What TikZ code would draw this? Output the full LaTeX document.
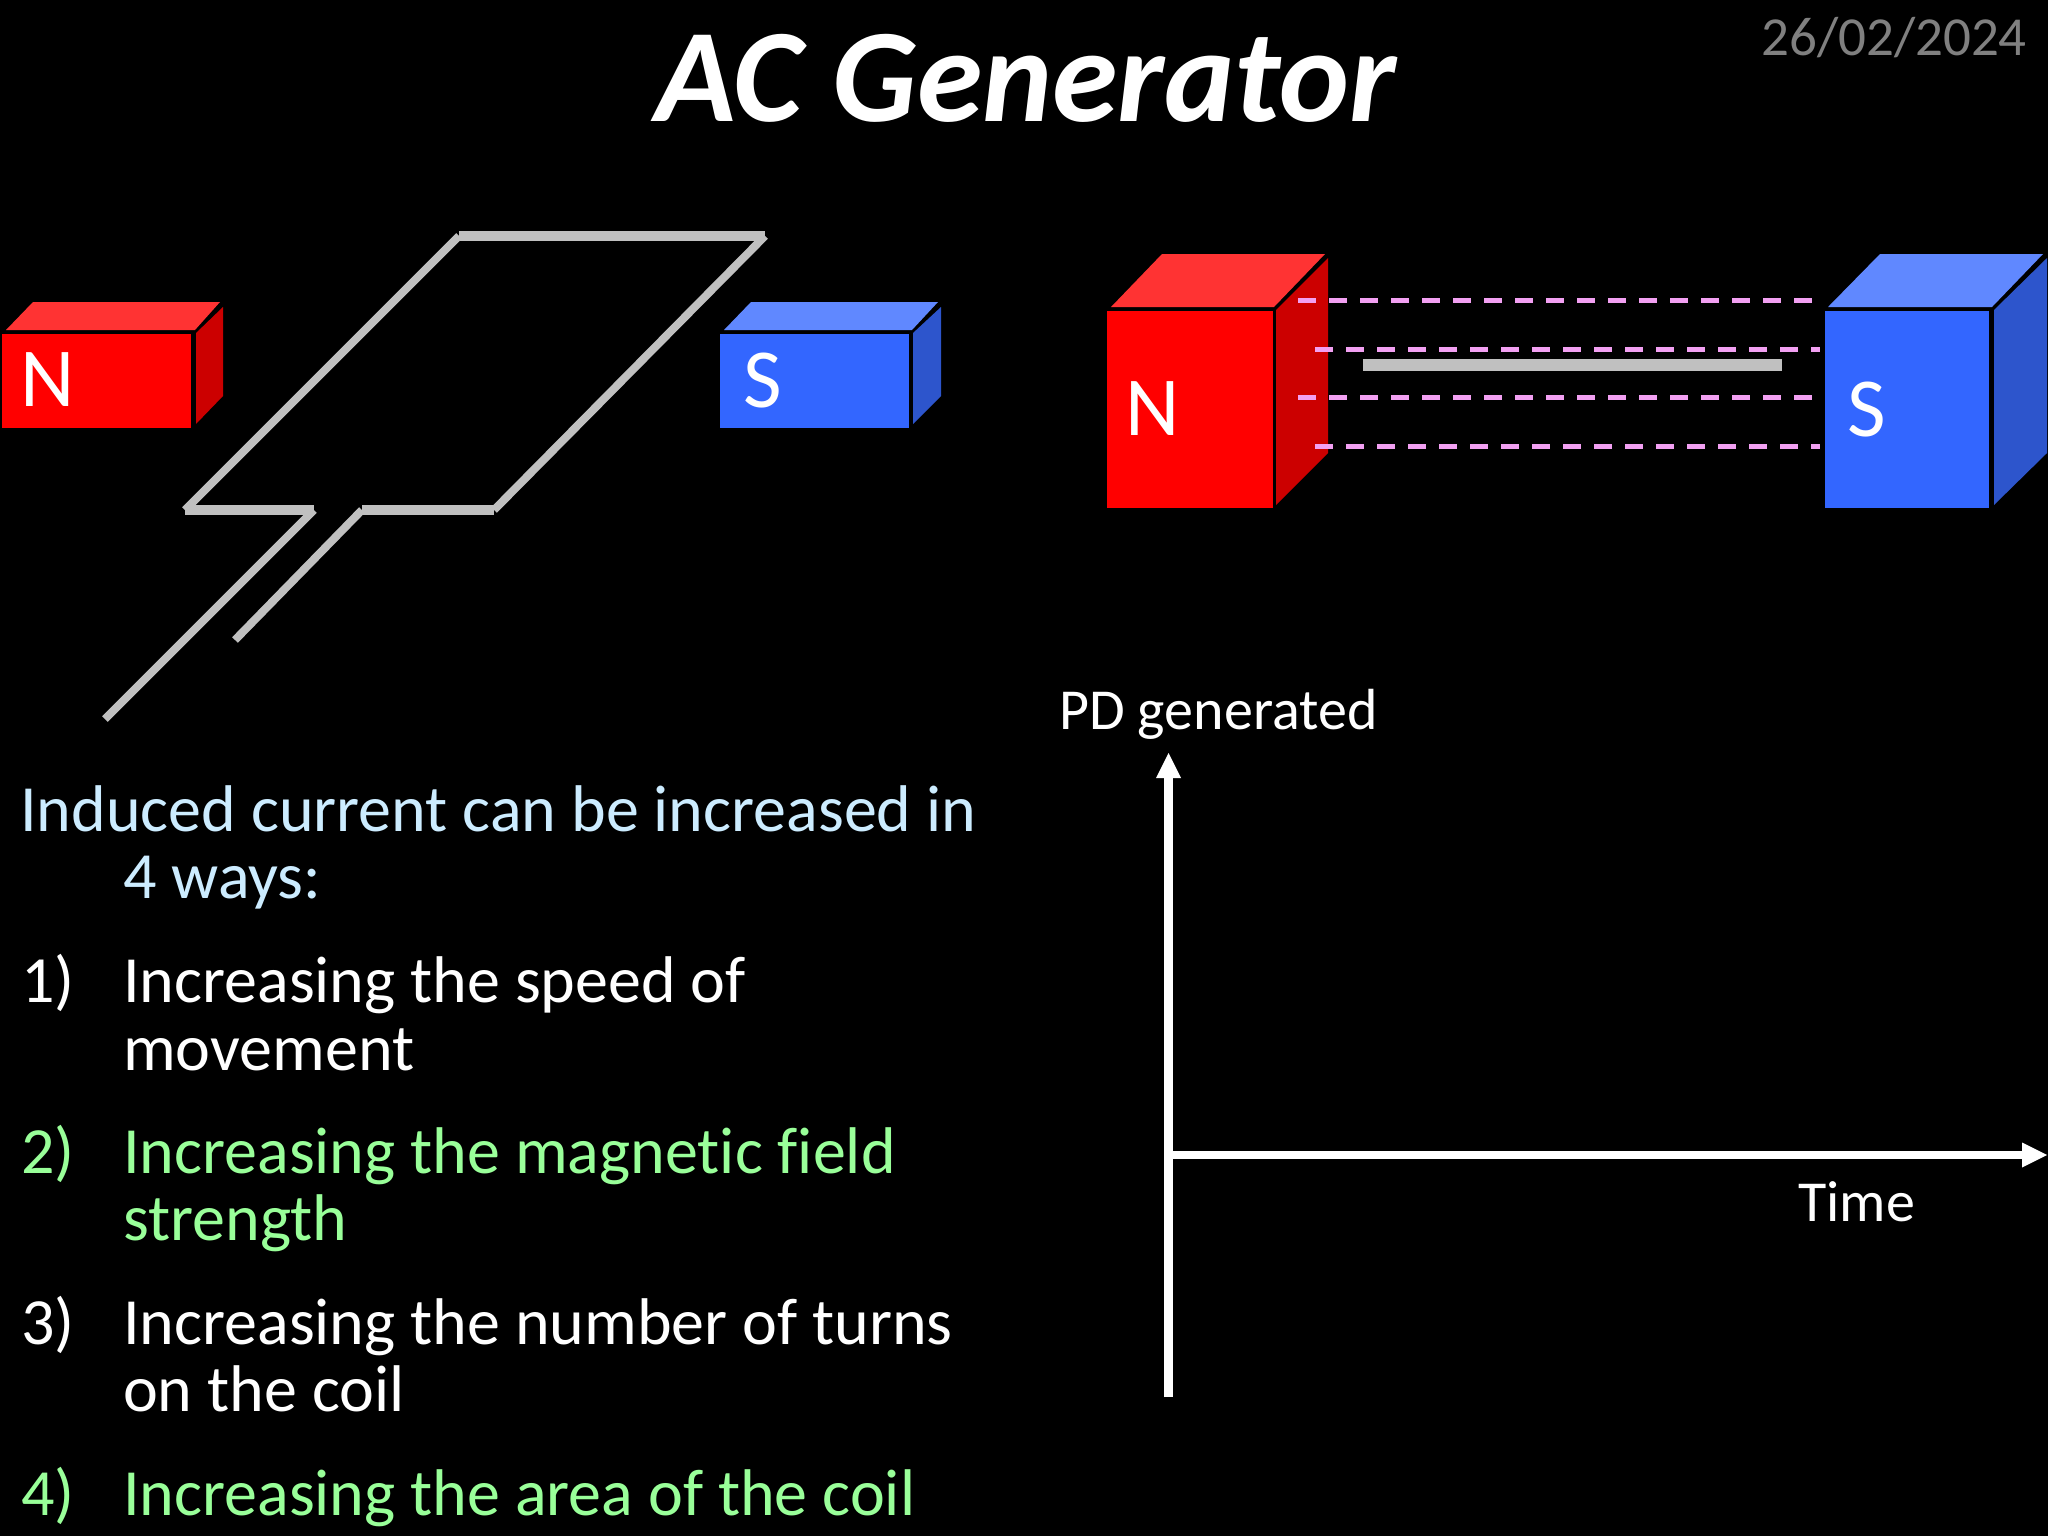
\documentclass[tikz,border=0pt]{standalone}
\usepackage{fontspec}
\setmainfont[Ligatures=NoCommon]{Carlito}
\definecolor{coilgrey}{HTML}{C0C0C0}
\definecolor{fieldpink}{HTML}{F2A0F2}
\definecolor{introblue}{HTML}{CCECFF}
\definecolor{stepgreen}{HTML}{99FF99}
\definecolor{datagrey}{HTML}{808080}
\definecolor{redtop}{HTML}{FF3333}
\definecolor{redside}{HTML}{CC0000}
\definecolor{bluefront}{HTML}{3366FF}
\definecolor{bluetop}{HTML}{6088FF}
\definecolor{blueside}{HTML}{2D55CC}
\begin{document}
\begin{tikzpicture}[x=1pt,y=1pt]
    \tikzstyle{every node}+=[inner sep=0pt]
    \tikzstyle{bodytext}=[anchor=base west,font=\fontsize{66}{66}\selectfont]
    \tikzstyle{axislabel}=[anchor=base west,white,font=\fontsize{58}{58}\selectfont]
    \tikzstyle{polelabel}=[white,font=\fontsize{84}{84}\selectfont]
    \tikzstyle{coilwire}=[draw=coilgrey,line width=8pt]
    \tikzstyle{coilflat}=[draw=coilgrey,line width=9.5pt]
    \tikzstyle{fieldline}=[draw=fieldpink,line width=5pt,dash pattern=on 18pt off 13pt]
    \tikzstyle{axisline}=[draw=white,line width=8.5pt]
    \fill [black] (0,0) rectangle (2048,-1536);
    % heading
    \node (heading) at (1026,-78) [white,font=\fontsize{133}{133}\selectfont\bfseries\itshape] {AC Generator};
    \node (datestamp) at (2027,-56) [anchor=base east,datagrey,font=\fontsize{55}{55}\selectfont] {26/02/2024};
    % small magnets
    \fill [red] (2,-334) rectangle (191,-428);
    \fill [redtop] (6,-330) -- (33,-302) -- (220,-302) -- (195,-330);
    \fill [redside] (196,-333) -- (223,-307) -- (223,-396) -- (196,-424);
    \node (smalln) at (48,-380) [polelabel] {N};
    \fill [bluefront] (720,-334) rectangle (909,-428);
    \fill [bluetop] (724,-330) -- (751,-302) -- (938,-302) -- (912,-330);
    \fill [blueside] (913,-333) -- (941,-307) -- (941,-396) -- (913,-424);
    \node (smalls) at (763,-381) [polelabel] {S};
    % coil
    \coordinate (backleft) at (459,-236);
    \coordinate (backright) at (765,-236);
    \coordinate (frontleft) at (185,-510);
    \coordinate (frontright) at (494,-510);
    \coordinate (gapleft) at (314,-510);
    \coordinate (gapright) at (362,-510);
    \coordinate (leadleft) at (105,-719);
    \coordinate (leadright) at (235,-640);
    \draw [coilflat] (backleft) -- (backright);
    \draw [coilwire] (backleft) -- (frontleft);
    \draw [coilwire] (backright) -- (frontright);
    \draw [coilflat] (frontleft) -- (gapleft);
    \draw [coilflat] (gapright) -- (frontright);
    \draw [coilwire] (gapleft) -- (leadleft);
    \draw [coilwire] (gapright) -- (leadright);
    % large magnets
    \fill [red] (1107,-311) rectangle (1273,-508);
    \fill [redtop] (1111,-307) -- (1162,-254) -- (1325,-254) -- (1274,-307);
    \fill [redside] (1276,-310) -- (1328,-258) -- (1328,-453) -- (1276,-505);
    \node (bign) at (1153,-409) [polelabel] {N};
    \fill [bluefront] (1825,-311) rectangle (1989,-508);
    \fill [bluetop] (1828,-307) -- (1880,-254) -- (2043,-254) -- (1992,-307);
    \fill [blueside] (1994,-310) -- (2047,-258) -- (2047,-453) -- (1994,-505);
    \node (bigs) at (1867,-410) [polelabel] {S};
    % field lines and the coil seen edge on
    \draw [fieldline] (1298,-300) -- (1813,-300);
    \draw [fieldline] (1315,-349) -- (1820,-349);
    \draw [fieldline] (1298,-397) -- (1813,-397);
    \draw [fieldline] (1315,-446) -- (1820,-446);
    \fill [coilgrey] (1363,-359) rectangle (1782,-371);
    % axes
    \coordinate (yfoot) at (1168.5,-1397);
    \coordinate (yneck) at (1168.5,-778);
    \coordinate (ytip) at (1168.5,-753);
    \coordinate (xfoot) at (1173,-1155);
    \coordinate (xneck) at (2022,-1155);
    \coordinate (xtip) at (2047,-1155);
    \draw [axisline] (yfoot) -- (yneck);
    \fill [white] (ytip) -- ([xshift=12.5pt]yneck) -- ([xshift=-12.5pt]yneck);
    \draw [axisline] (xfoot) -- (xneck);
    \fill [white] (xtip) -- ([yshift=12.5pt]xneck) -- ([yshift=-12.5pt]xneck);
    \node (pdlabel) at (1059,-729) [axislabel] {PD generated};
    \node (timelabel) at (1798,-1221) [axislabel] {Time};
    % list
    \node (intro) at (20,-831) [bodytext,introblue] {Induced current can be increased in};
    \node (introb) at (123,-898) [bodytext,introblue] {4 ways:};
    \node (numa) at (21,-1002) [bodytext,white] {1)};
    \node (itema) at (123,-1002) [bodytext,white] {Increasing the speed of};
    \node (itemab) at (123,-1070) [bodytext,white] {movement};
    \node (numb) at (21,-1173) [bodytext,stepgreen] {2)};
    \node (itemb) at (123,-1173) [bodytext,stepgreen] {Increasing the magnetic field};
    \node (itembb) at (123,-1240) [bodytext,stepgreen] {strength};
    \node (numc) at (21,-1344) [bodytext,white] {3)};
    \node (itemc) at (123,-1344) [bodytext,white] {Increasing the number of turns};
    \node (itemcb) at (123,-1411) [bodytext,white] {on the coil};
    \node (numd) at (21,-1515) [bodytext,stepgreen] {4)};
    \node (itemd) at (123,-1515) [bodytext,stepgreen] {Increasing the area of the coil};
\end{tikzpicture}
\end{document}
